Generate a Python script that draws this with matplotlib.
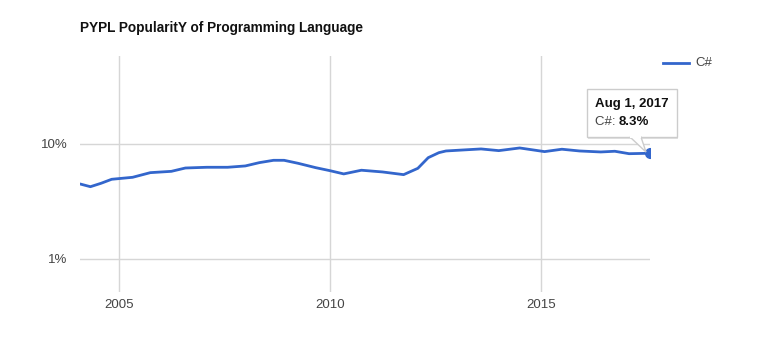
import matplotlib
matplotlib.use("Agg")
import matplotlib.pyplot as plt
from matplotlib.patches import Polygon, FancyBboxPatch
import pandas as pd

# C# share (%)
months = ["2004-02", "2004-05", "2004-08", "2004-11", "2005-05", "2005-10",
          "2006-04", "2006-08", "2007-02", "2007-08", "2008-01", "2008-05",
          "2008-09", "2008-12", "2009-04", "2009-09", "2010-01", "2010-05",
          "2010-10", "2011-04", "2011-10", "2012-02", "2012-05", "2012-08",
          "2012-10", "2013-03", "2013-08", "2014-01", "2014-07", "2015-02",
          "2015-07", "2015-12", "2016-06", "2016-10", "2017-02", "2017-08"]
share = [4.49, 4.25, 4.55, 4.93, 5.13, 5.63,
         5.78, 6.18, 6.27, 6.27, 6.44, 6.88,
         7.21, 7.21, 6.79, 6.22, 5.86, 5.49,
         5.91, 5.71, 5.41, 6.14, 7.60, 8.40,
         8.69, 8.87, 9.05, 8.75, 9.23, 8.58,
         9.00, 8.69, 8.52, 8.64, 8.23, 8.30]
year_ticks = [2005, 2010, 2015]
y_ticks = [1, 10]
y_tick_labels = ["1%", "10%"]
series_name = "C#"

dates = pd.to_datetime(months)
blue = "#3366cc"
txt = "#444444"

fig = plt.figure(figsize=(7.68, 3.54), dpi=100)
ax = fig.add_axes([80 / 768, 62 / 354, 570 / 768, 236 / 354])

ax.plot(dates, share, color=blue, lw=2, solid_capstyle="round", zorder=3)
ax.plot(dates[-1], share[-1], "o", color=blue, ms=7, zorder=4)

ax.set_yscale("log")
ax.set_ylim(0.516, 58.2)
ax.set_xlim(dates[0], dates[-1])

ax.set_yticks(y_ticks)
ax.set_yticklabels(y_tick_labels)
ax.yaxis.set_minor_locator(matplotlib.ticker.NullLocator())
ax.set_xticks([pd.Timestamp(f"{y}-01-01") for y in year_ticks])
ax.set_xticklabels([str(y) for y in year_ticks])

ax.grid(True, color="#d6d6d6", lw=1)
ax.set_axisbelow(True)
for s in ax.spines.values():
    s.set_visible(False)
ax.tick_params(length=0, colors=txt, labelsize=9.5)
ax.tick_params(axis="x", pad=5)
ax.tick_params(axis="y", pad=9)
for lab in ax.get_xticklabels() + ax.get_yticklabels():
    lab.set_fontfamily("Liberation Sans")

fig.text(80 / 768, 1 - 28 / 354, "PYPL PopularitY of Programming Language",
         fontsize=9.8, fontweight="bold", family="Liberation Sans",
         color="#111111", va="center")

# legend
fig.add_artist(plt.Line2D([663 / 768, 689 / 768], [1 - 63 / 354] * 2,
                          color=blue, lw=2))
fig.text(695 / 768, 1 - 63 / 354, series_name, fontsize=9.5, color=txt,
         family="Liberation Sans", va="center")

# tooltip
bx0, bx1, by0, by1 = 587, 677, 89, 137
def fx(px):
    return px / 768
def fy(py):
    return 1 - py / 354
shadow = FancyBboxPatch((fx(bx0 + 1), fy(by1 + 2)), fx(bx1 - bx0), (by1 - by0) / 354,
                        boxstyle="square,pad=0", transform=fig.transFigure,
                        fc="#e2e2e2", ec="none", zorder=5)
box = FancyBboxPatch((fx(bx0), fy(by1)), fx(bx1 - bx0), (by1 - by0) / 354,
                     boxstyle="square,pad=0", transform=fig.transFigure,
                     fc="white", ec="#cccccc", lw=1, zorder=6)
fig.add_artist(shadow)
fig.add_artist(box)
tail = Polygon([(fx(630), fy(137)), (fx(646), fy(152)), (fx(641), fy(137))],
               closed=True, transform=fig.transFigure, fc="white",
               ec="#cccccc", lw=1, zorder=6)
fig.add_artist(tail)
fig.add_artist(plt.Line2D([fx(631), fx(640)], [fy(137), fy(137)], color="white",
                          lw=1.5, zorder=7))
fig.text(fx(595), fy(104), "Aug 1, 2017", fontsize=9.5, fontweight="bold",
         family="Liberation Sans", color="#111111", va="center", zorder=8)
fig.text(fx(595), fy(122), series_name + ": ", fontsize=9.5,
         family="Liberation Sans", color=txt, va="center", zorder=8)
fig.text(fx(619), fy(122), f"{share[-1]}%", fontsize=9.5, fontweight="bold",
         family="Liberation Sans", color="#111111", va="center", zorder=8)

fig.savefig("out.png", dpi=100, facecolor="white")
